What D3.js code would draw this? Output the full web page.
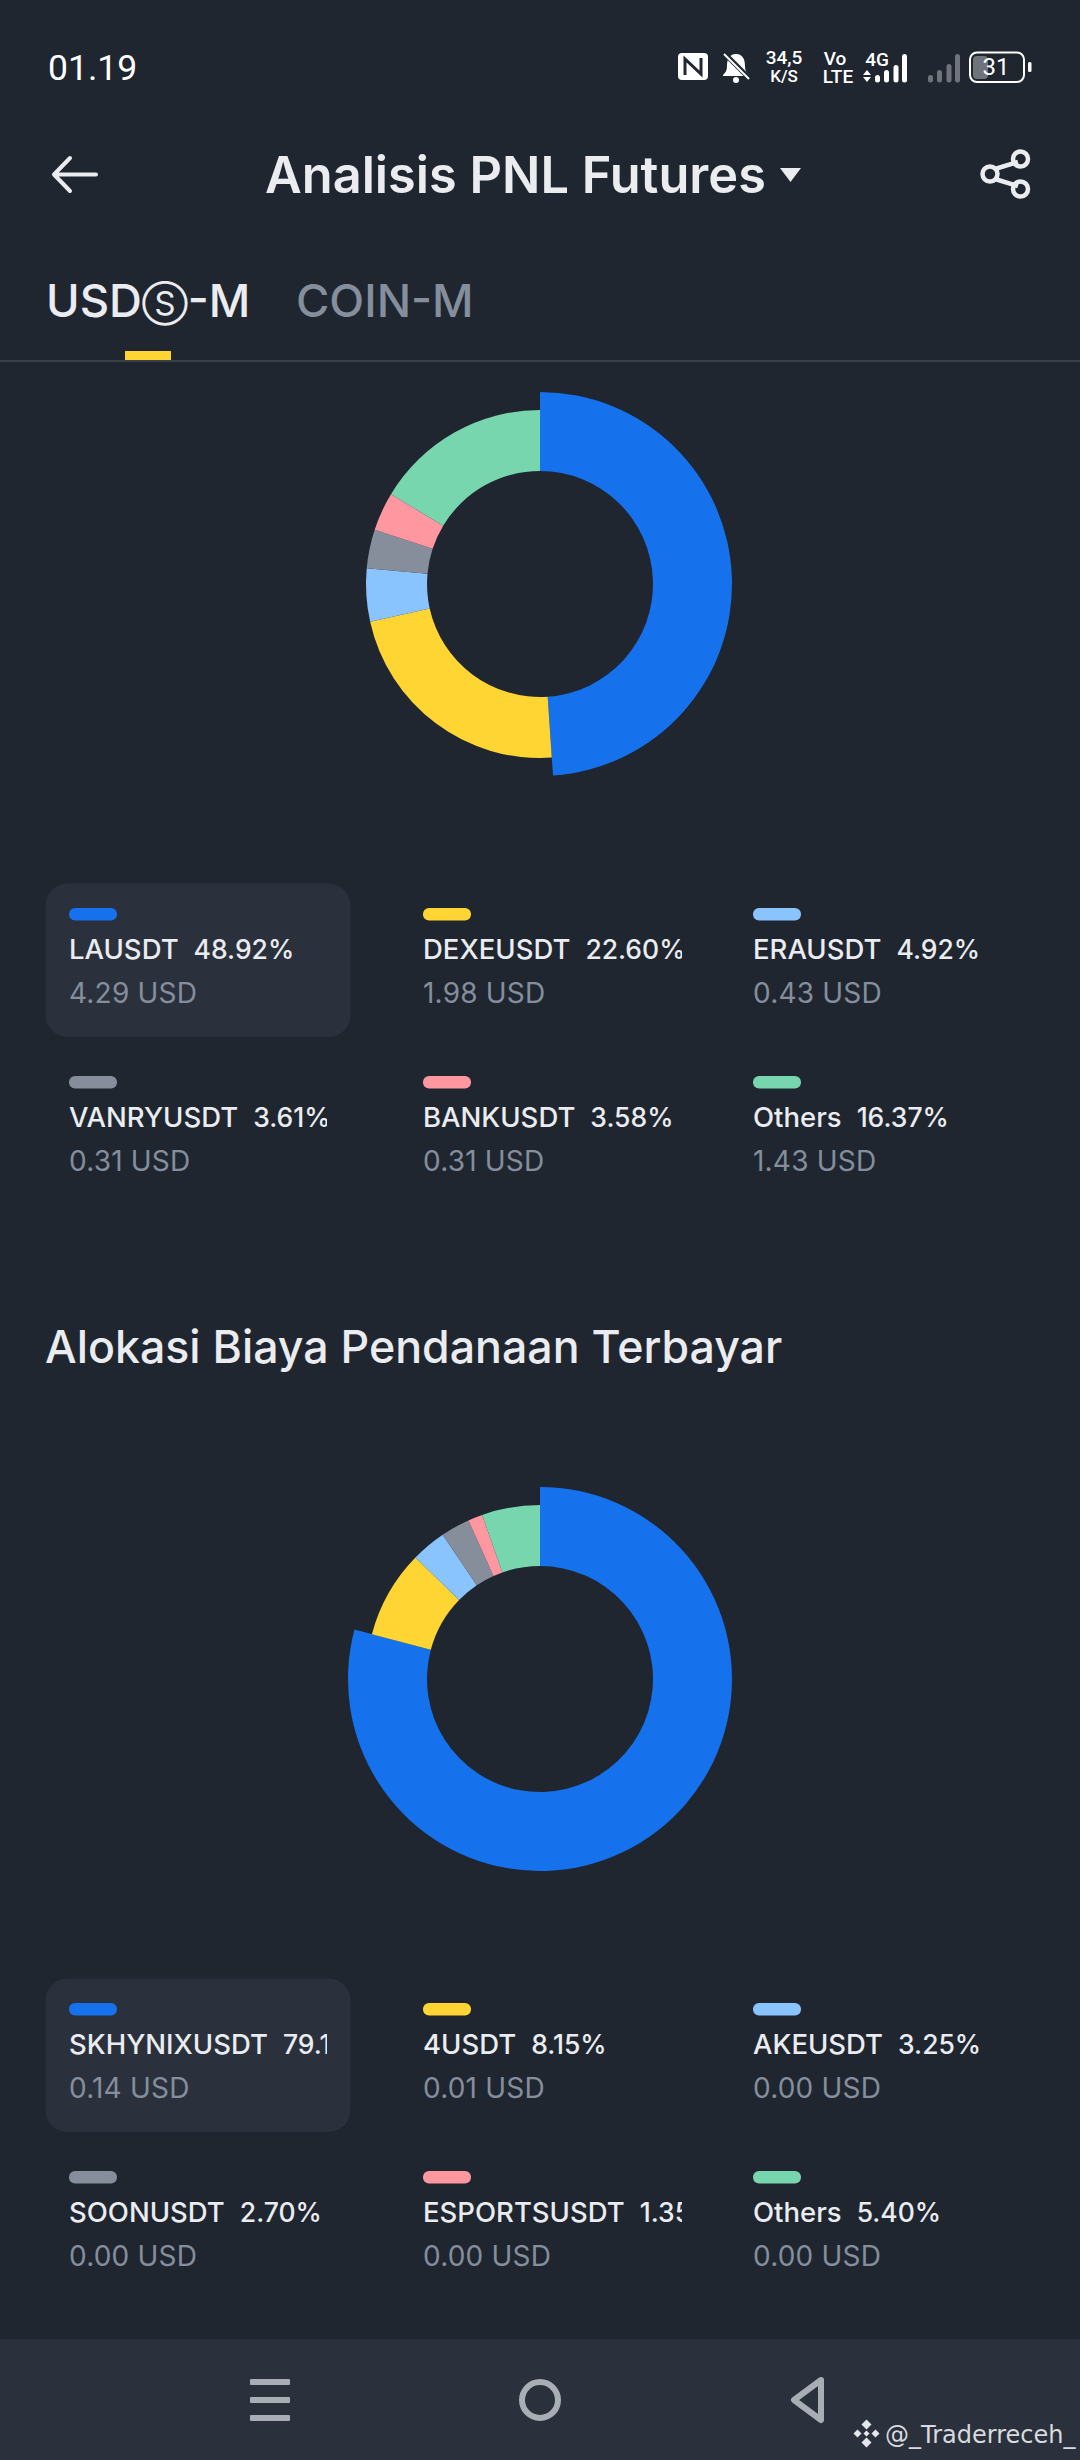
<!DOCTYPE html>
<html>
<head>
<meta charset="utf-8">
<script src="https://cdnjs.cloudflare.com/ajax/libs/d3/7.8.5/d3.min.js"></script>
<style>
  html, body { margin: 0; padding: 0; background: #1f2630; }
  svg { display: block; }
  text { font-family: Inter, "Noto Sans", sans-serif; }
</style>
</head>
<body>
<div id="chart"></div>
<script>
// values
var pnlSymbols = ['LAUSDT', 'DEXEUSDT', 'ERAUSDT', 'VANRYUSDT', 'BANKUSDT', 'Others'];
var pnlPercent = [48.92, 22.60, 4.92, 3.61, 3.58, 16.37];
var pnlUsd = ['4.29', '1.98', '0.43', '0.31', '0.31', '1.43'];

var fundingSymbols = ['SKHYNIXUSDT', '4USDT', 'AKEUSDT', 'SOONUSDT', 'ESPORTSUSDT', 'Others'];
var fundingPercent = [79.15, 8.15, 3.25, 2.70, 1.35, 5.40];
var fundingUsd = ['0.14', '0.01', '0.00', '0.00', '0.00', '0.00'];

var sliceColors = ['#1671ec', '#fed533', '#8ac4ff', '#868e9c', '#fe97a0', '#78d6ae'];

var white = '#eaecef', grey = '#848e9c', bg = '#1f2630', panel = '#2a313c';

var svg = d3.select('#chart').append('svg')
    .attr('width', 1080)
    .attr('height', 2460);

svg.append('rect').attr('width', 1080).attr('height', 2460).attr('fill', bg);

var defs = svg.append('defs');

drawStatusBar();
drawHeader();
drawDonut(584, pnlSymbols, pnlPercent);
drawLegend(0, 'a', pnlSymbols, pnlPercent, pnlUsd);

svg.append('text')
    .attr('x', 45).attr('y', 1362.5)
    .attr('font-size', 44.7).attr('font-weight', 500)
    .attr('fill', white)
    .text('Alokasi Biaya Pendanaan Terbayar');

drawDonut(1679, fundingSymbols, fundingPercent);
drawLegend(1095, 'b', fundingSymbols, fundingPercent, fundingUsd);
drawNavBar();


function drawDonut(cy, symbols, values) {
    var color = d3.scaleOrdinal().domain(symbols).range(sliceColors);
    var pie = d3.pie().sort(null).value(d => d.value);
    var rows = symbols.map((s, i) => ({symbol: s, value: values[i]}));

    // first slice is the selected one and sticks out
    var arc = d3.arc()
        .innerRadius(113)
        .outerRadius(d => d.index === 0 ? 192 : 174);

    svg.append('g')
        .attr('transform', 'translate(540,' + cy + ')')
        .selectAll('path')
        .data(pie(rows))
        .enter()
        .append('path')
        .attr('d', arc)
        .attr('fill', d => color(d.data.symbol));
}


function drawLegend(offset, id, symbols, values, usd) {
    var colX = [69, 423, 753];
    var clipRight = [327, 682, 1060];

    svg.append('rect')
        .attr('x', 45.5).attr('y', 883.5 + offset)
        .attr('width', 305).attr('height', 153.5)
        .attr('rx', 22)
        .attr('fill', panel);

    symbols.forEach(function(s, i) {
        var col = i % 3;
        var top = offset + (i < 3 ? 0 : 168);
        var clipId = 'clip-' + id + i;

        defs.append('clipPath').attr('id', clipId)
            .append('rect')
            .attr('x', colX[col]).attr('y', top + 925)
            .attr('width', clipRight[col] - colX[col]).attr('height', 45);

        svg.append('rect')
            .attr('x', colX[col]).attr('y', top + 908)
            .attr('width', 48).attr('height', 12.5)
            .attr('rx', 6)
            .attr('fill', sliceColors[i]);

        var t = svg.append('text')
            .attr('x', colX[col]).attr('y', top + 959)
            .attr('clip-path', 'url(#' + clipId + ')')
            .attr('font-size', 27.5).attr('font-weight', 500)
            .attr('fill', white);
        t.append('tspan').text(s);
        t.append('tspan').attr('dx', 15).attr('font-size', 26.5).text(values[i].toFixed(2) + '%');

        svg.append('text')
            .attr('x', colX[col]).attr('y', top + 1003)
            .attr('font-size', 28)
            .attr('letter-spacing', 0.2)
            .attr('fill', grey)
            .text(usd[i] + ' USD');
    });
}


function drawHeader() {
    svg.append('text')
        .attr('x', 265).attr('y', 192.5)
        .attr('font-size', 50.5).attr('font-weight', 600)
        .attr('fill', white)
        .text('Analisis PNL Futures');

    svg.append('path').attr('d', 'M780 168H801L790.5 182Z').attr('fill', white);

    // back arrow
    svg.append('path')
        .attr('d', 'M96 174.5H55M70 158L54 174.5L70 191')
        .attr('fill', 'none').attr('stroke', white)
        .attr('stroke-width', 4).attr('stroke-linecap', 'round').attr('stroke-linejoin', 'round');

    // share icon
    var share = svg.append('g').attr('fill', 'none').attr('stroke', white).attr('stroke-width', 4.5);
    share.append('path').attr('d', 'M1018 162L995 169M995 179L1018 186');
    [[1020.5, 159], [990, 174], [1020.5, 189]].forEach(function(p) {
        share.append('circle').attr('cx', p[0]).attr('cy', p[1]).attr('r', 7.5);
    });

    // the circled S is smaller than the letters around it
    var tab = svg.append('text')
        .attr('x', 46).attr('y', 317)
        .attr('font-size', 45.5).attr('font-weight', 500)
        .attr('fill', white);
    tab.append('tspan').text('USD');
    tab.append('tspan').attr('font-size', 33).attr('font-weight', 400).attr('dy', -2).text('\u24C8');
    tab.append('tspan').attr('dy', 2).text('-M');

    svg.append('text')
        .attr('x', 296).attr('y', 317)
        .attr('font-size', 45.5).attr('font-weight', 500)
        .attr('fill', grey)
        .text('COIN-M');

    svg.append('rect').attr('x', 0).attr('y', 360).attr('width', 1080).attr('height', 2).attr('fill', '#383f4a');
    svg.append('rect').attr('x', 125).attr('y', 351).attr('width', 46).attr('height', 9).attr('fill', '#fed533');
}


function drawStatusBar() {
    var sb = svg.append('g');

    function label(x, y, size, txt, anchor, weight) {
        sb.append('text')
            .attr('x', x).attr('y', y)
            .style('font-family', 'Roboto')
            .attr('font-size', size)
            .attr('font-weight', weight || 500)
            .attr('text-anchor', anchor || 'middle')
            .attr('fill', '#ffffff')
            .text(txt);
    }

    label(48, 80, 35.5, '01.19', 'start', 400);

    // nfc
    sb.append('rect').attr('x', 678).attr('y', 53).attr('width', 30).attr('height', 27).attr('rx', 4).attr('fill', '#fff');
    sb.append('path').attr('d', 'M685 75V59L701 74V58')
        .attr('fill', 'none').attr('stroke', bg).attr('stroke-width', 3);

    // muted bell
    sb.append('path').attr('d', 'M736 54C729 54 727 60 727 66C727 71 725 73 723 75V76H749V75C747 73 745 71 745 66C745 60 743 54 736 54Z').attr('fill', '#fff');
    sb.append('circle').attr('cx', 736).attr('cy', 80).attr('r', 3).attr('fill', '#fff');
    sb.append('path').attr('d', 'M724 53L750 79').attr('stroke', bg).attr('stroke-width', 5);
    sb.append('path').attr('d', 'M724 54L749 79').attr('stroke', '#fff').attr('stroke-width', 2);

    label(784, 63.5, 19, '34,5');
    label(784, 82, 17, 'K/S');
    label(835, 64.5, 19, 'Vo');
    label(838, 82.5, 19, 'LTE');
    label(877, 66, 19, '4G');

    sb.append('path').attr('d', 'M867 70L871 75H863ZM867 82L871 77H863Z').attr('fill', '#fff');

    var barX = [875, 884, 893.5, 902];
    var barTop = [75, 70, 65, 54];
    barX.forEach(function(x, i) {
        sb.append('rect').attr('x', x).attr('y', barTop[i]).attr('width', 5).attr('height', 82.5 - barTop[i]).attr('rx', 2.5).attr('fill', '#fff');
    });
    var greyX = [928, 937, 946.5, 955];
    var greyTop = [75, 70, 64, 54];
    greyX.forEach(function(x, i) {
        sb.append('rect').attr('x', x).attr('y', greyTop[i]).attr('width', 5).attr('height', 82.5 - greyTop[i]).attr('rx', 2.5).attr('fill', '#6f747c');
    });

    // battery
    sb.append('rect').attr('x', 973).attr('y', 56).attr('width', 15).attr('height', 23).attr('rx', 4).attr('fill', '#6f747c');
    sb.append('rect').attr('x', 970).attr('y', 52.5).attr('width', 54).attr('height', 29.5).attr('rx', 7)
        .attr('fill', 'none').attr('stroke', '#fff').attr('stroke-width', 2);
    sb.append('rect').attr('x', 1028).attr('y', 62).attr('width', 3.5).attr('height', 10).attr('rx', 1.5).attr('fill', '#fff');
    label(996, 75, 24, '31', 'middle', 400);
}


function drawNavBar() {
    var navColor = '#a9adb5';
    svg.append('rect').attr('x', 0).attr('y', 2339).attr('width', 1080).attr('height', 121).attr('fill', panel);

    [2379, 2397, 2415].forEach(function(y) {
        svg.append('rect').attr('x', 250).attr('y', y).attr('width', 40).attr('height', 6).attr('rx', 1).attr('fill', navColor);
    });

    svg.append('circle').attr('cx', 540).attr('cy', 2400).attr('r', 18)
        .attr('fill', 'none').attr('stroke', navColor).attr('stroke-width', 6);

    svg.append('path').attr('d', 'M821 2380L794 2400L821 2420Z')
        .attr('fill', 'none').attr('stroke', navColor).attr('stroke-width', 6).attr('stroke-linejoin', 'round');

    // binance watermark
    var mark = svg.append('g').attr('fill', '#e4e6ea');
    [[866.5, 2424.5, 5], [857.5, 2433.5, 4], [875.5, 2433.5, 4], [866.5, 2442.5, 5], [866.5, 2433.5, 3]].forEach(function(p) {
        mark.append('path').attr('d', 'M' + p[0] + ' ' + (p[1] - p[2]) + 'l' + p[2] + ' ' + p[2] + 'l' + (-p[2]) + ' ' + p[2] + 'l' + (-p[2]) + ' ' + (-p[2]) + 'Z');
    });

    svg.append('text')
        .attr('x', 885).attr('y', 2443)
        .style('font-family', '"DejaVu Sans"')
        .attr('font-size', 24)
        .attr('fill', '#d8dade')
        .text('@_Traderreceh_');
}
</script>
</body>
</html>
